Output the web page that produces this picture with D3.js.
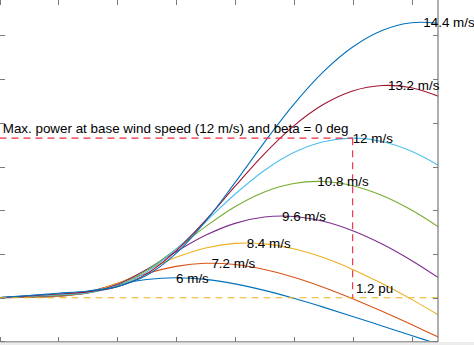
<!DOCTYPE html>
<html>
<head>
<meta charset="utf-8">
<script src="https://cdn.jsdelivr.net/npm/d3@7"></script>
<style>
  html, body { margin: 0; padding: 0; background: #ffffff; }
  svg { display: block; }
  text { font-family: "Liberation Sans", Arial, Helvetica, sans-serif; }
</style>
</head>
<body>
<div id="chart"></div>
<script>
// Turbine speed (pu)
const turbineSpeed = [0, 0.1, 0.2, 0.3, 0.4, 0.5, 0.6, 0.7, 0.8, 0.9, 1.0, 1.1, 1.2, 1.3, 1.4, 1.5];
// Wind speed labels
const windSpeeds = ["6 m/s", "7.2 m/s", "8.4 m/s", "9.6 m/s", "10.8 m/s", "12 m/s", "13.2 m/s", "14.4 m/s"];
// Turbine output power (pu) per wind speed
const p6   = [0, 0.0018, 0.0064, 0.0277, 0.0592, 0.0830, 0.0913, 0.0837, 0.0633, 0.0335, -0.0028, -0.0431, -0.0857, -0.1293, -0.1730, -0.2162];
const p7_2 = [0, 0.0025, 0.0063, 0.0254, 0.0658, 0.1106, 0.1434, 0.1573, 0.1518, 0.1294, 0.0937, 0.0480, -0.0048, -0.0625, -0.1232, -0.1856];
const p8_4 = [0, 0.0034, 0.0074, 0.0226, 0.0648, 0.1255, 0.1847, 0.2278, 0.2486, 0.2465, 0.2236, 0.1835, 0.1295, 0.0648, -0.0077, -0.0858];
const p9_6 = [0, 0.0045, 0.0091, 0.0211, 0.0601, 0.1291, 0.2107, 0.2853, 0.3400, 0.3691, 0.3718, 0.3499, 0.3068, 0.2459, 0.1705, 0.0839];
const p10_8 = [0, 0.0057, 0.0114, 0.0214, 0.0549, 0.1251, 0.2221, 0.3252, 0.4164, 0.4840, 0.5229, 0.5316, 0.5122, 0.4675, 0.4011, 0.3163];
const p12  = [0, 0.0070, 0.0140, 0.0234, 0.0512, 0.1174, 0.2219, 0.3475, 0.4733, 0.5823, 0.6640, 0.7137, 0.7300, 0.7145, 0.6698, 0.5992];
const p13_2 = [0, 0.0085, 0.0169, 0.0267, 0.0499, 0.1091, 0.2142, 0.3542, 0.5091, 0.6585, 0.7864, 0.8838, 0.9459, 0.9710, 0.9607, 0.9172];
const p14_4 = [0, 0.0101, 0.0201, 0.0308, 0.0507, 0.1024, 0.2029, 0.3496, 0.5264, 0.7111, 0.8848, 1.0333, 1.1474, 1.2231, 1.2583, 1.2549];
// Label anchor points (peak of each curve)
const peakSpeed = [0.60, 0.72, 0.84, 0.96, 1.08, 1.20, 1.32, 1.44];
const peakPower = [0.0913, 0.1577, 0.2504, 0.3738, 0.5322, 0.73, 0.9716, 1.2614];
// Reference lines
const maxPowerBase = 0.73;
const baseSpeed = 1.2;
const zeroPower = 0;
// Axis ticks
const xTicks = [0, 0.2, 0.4, 0.6, 0.8, 1.0, 1.2, 1.4];
const yTicks = [-0.2, 0, 0.2, 0.4, 0.6, 0.8, 1.0, 1.2];
// Annotations
const maxText = "Max. power at base wind speed (12 m/s) and beta = 0 deg";
const maxTextPos = [0.011, 0.776];
const puText = "1.2 pu";
const puTextPos = [1.211, 0.045];

const colors = ["#0072BD", "#D95319", "#EDB120", "#7E2F8E", "#77AC30", "#4DBEEE", "#A2142F", "#0072BD"];
const series = [p6, p7_2, p8_4, p9_6, p10_8, p12, p13_2, p14_4];

const W = 474, H = 345;
const svg = d3.select("#chart").append("svg").attr("width", W).attr("height", H);

const x = d3.scaleLinear().domain([0, 1.49]).range([-0.5, 438]);
const y = d3.scaleLinear().domain([-0.2, 1.36]).range([341.4, 0.5]);

// figure background below the axes
svg.append("rect").attr("x", 0).attr("y", 342).attr("width", W).attr("height", H - 342).attr("fill", "#ececec");

svg.append("defs").append("clipPath").attr("id", "clip")
  .append("rect").attr("x", x(0)).attr("y", y(1.36)).attr("width", x(1.49) - x(0)).attr("height", y(-0.2) - y(1.36));

const plot = svg.append("g").attr("clip-path", "url(#clip)");

const line = d3.line().x((d, i) => x(turbineSpeed[i])).y(d => y(d)).curve(d3.curveCatmullRom.alpha(0.5));

series.forEach((s, k) => {
  plot.append("path").datum(s).attr("d", line).attr("fill", "none")
    .attr("stroke", colors[k]).attr("stroke-width", 1.1);
});

// reference dashed lines
plot.append("line").attr("x1", x(0)).attr("x2", x(1.49)).attr("y1", y(zeroPower)).attr("y2", y(zeroPower))
  .attr("stroke", "#EDB120").attr("stroke-width", 1.1).attr("stroke-dasharray", "7,5");
plot.append("line").attr("x1", x(0)).attr("x2", x(baseSpeed)).attr("y1", y(maxPowerBase)).attr("y2", y(maxPowerBase))
  .attr("stroke", "#f0283c").attr("stroke-width", 1.1).attr("stroke-dasharray", "7,5");
plot.append("line").attr("x1", x(baseSpeed)).attr("x2", x(baseSpeed)).attr("y1", y(maxPowerBase)).attr("y2", y(zeroPower))
  .attr("stroke", "#f0283c").attr("stroke-width", 1.1).attr("stroke-dasharray", "7,5");

// axes (ticks inward)
const axisColor = "#7a7a7a";
const gA = svg.append("g");
gA.append("line").attr("x1", 438).attr("x2", 438).attr("y1", 0).attr("y2", 342).attr("stroke", axisColor).attr("stroke-width", 1.2);
gA.append("line").attr("x1", 0).attr("x2", 438).attr("y1", 341.8).attr("y2", 341.8).attr("stroke", axisColor).attr("stroke-width", 1);
xTicks.forEach(t => {
  const px = Math.round(x(t)) + 0.5;
  gA.append("line").attr("x1", px).attr("x2", px).attr("y1", 0).attr("y2", 5).attr("stroke", axisColor);
  gA.append("line").attr("x1", px).attr("x2", px).attr("y1", 337).attr("y2", 342).attr("stroke", axisColor);
});
yTicks.forEach(t => {
  const py = Math.round(y(t)) + 0.5;
  gA.append("line").attr("x1", 0).attr("x2", 5).attr("y1", py).attr("y2", py).attr("stroke", axisColor);
  gA.append("line").attr("x1", 433).attr("x2", 438).attr("y1", py).attr("y2", py).attr("stroke", axisColor);
});

// text labels
const fs = 13.4;
windSpeeds.forEach((lab, k) => {
  svg.append("text").attr("x", x(peakSpeed[k])).attr("y", y(peakPower[k])).attr("dy", "0.36em")
    .attr("font-size", fs).attr("fill", "#000").text(lab);
});
svg.append("text").attr("x", x(maxTextPos[0])).attr("y", y(maxTextPos[1])).attr("dy", "0.36em")
  .attr("font-size", fs).attr("fill", "#000").text(maxText);
svg.append("text").attr("x", x(puTextPos[0])).attr("y", y(puTextPos[1])).attr("dy", "0.36em")
  .attr("font-size", fs).attr("fill", "#000").text(puText);
</script>
</body>
</html>
